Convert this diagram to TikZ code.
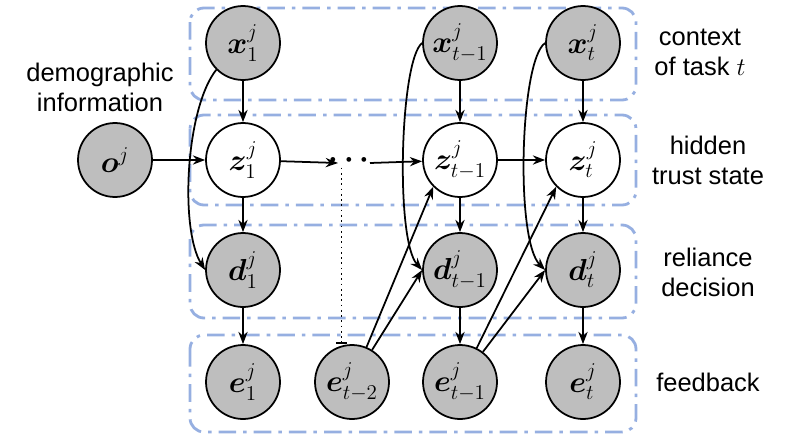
\documentclass[tikz,border=0pt]{standalone}
\usepackage{amsmath,bm}
\usepackage{fontspec}
\setmainfont{Liberation Sans}
\usetikzlibrary{arrows.meta}
\definecolor{gcol}{RGB}{190,190,190}
\definecolor{lcol}{RGB}{150,175,225}
\tikzset{every picture/.style={x=0.02cm,y=-0.02cm}}
\tikzset{obs/.style={circle,draw,line width=1pt,fill=gcol,minimum size=1.48cm,inner sep=0pt,font=\LARGE}}
\tikzset{hid/.style={circle,draw,line width=1pt,fill=white,minimum size=1.48cm,inner sep=0pt,font=\LARGE}}
\tikzset{edge/.style={-{Stealth[length=7pt]},line width=1pt}}
\tikzset{plate/.style={draw=lcol,line width=1.6pt,dash pattern=on 10pt off 4pt on 2pt off 4pt,rounded corners=8pt}}
\tikzset{lab/.style={align=center,font=\fontsize{14.5}{17}\selectfont}}
\begin{document}
\begin{tikzpicture}
\useasboundingbox (0,0) rectangle (794,436);
\draw [plate] (190,8) rectangle (636,100);
\draw [plate] (190,115) rectangle (636,205);
\draw [plate] (190,225) rectangle (636,318);
\draw [plate] (190,335) rectangle (636,432);

\node [obs] (o) at (115,160) {$\bm{o}^j$};
\node [obs] (x1) at (243,43) {$\bm{x}_1^j$};
\node [hid] (z1) at (243,160) {$\bm{z}_1^j$};
\node [obs] (d1) at (243,270) {$\bm{d}_1^j$};
\node [obs] (e1) at (243,382) {$\bm{e}_1^j$};

\node [obs] (e2) at (352,382) {$\bm{e}_{t-2}^j$};

\node [obs] (x2) at (460,43) {$\bm{x}_{t-1}^j$};
\node [hid] (z2) at (460,160) {$\bm{z}_{t-1}^j$};
\node [obs] (d2) at (460,270) {$\bm{d}_{t-1}^j$};
\node [obs] (e3) at (460,382) {$\bm{e}_{t-1}^j$};

\node [obs] (x3) at (583,43) {$\bm{x}_t^j$};
\node [hid] (z3) at (583,160) {$\bm{z}_t^j$};
\node [obs] (d3) at (583,270) {$\bm{d}_t^j$};
\node [obs] (e4) at (583,382) {$\bm{e}_t^j$};

\coordinate (dl) at (338,163);
\coordinate (dr) at (370,163);
\node [inner sep=0pt,font=\LARGE] (dots) at (352,160) {$\bm{\cdots}$};

\node [lab] at (100,87) {demographic\\information};
\node [lab] at (700,52) {context\\of task $t$};
\node [lab] at (708,160) {hidden\\trust state};
\node [lab] at (708,272) {reliance\\decision};
\node [lab] at (708,382) {feedback};

\draw [edge] (o) -- (z1);
\draw [edge] (x1) -- (z1);
\draw [edge] (z1) -- (d1);
\draw [edge] (d1) -- (e1);
\draw [edge] (x1.south west) .. controls (185,110) and (180,230) .. (d1.west);
\draw [edge] (z1) -- (dl);
\draw [edge] (dr) -- (z2);
\draw [line width=1pt,dotted,-{Bar[width=6pt,line width=1pt]}] ([xshift=-6pt]dots.south) -- ([xshift=-6pt]e2.north);
\draw [edge] (e2) -- (z2.south west);
\draw [edge] (e2) -- (d2.west);
\draw [edge] (x2) -- (z2);
\draw [edge] (z2) -- (d2);
\draw [edge] (d2) -- (e3);
\draw [edge] (x2.west) .. controls (400,60) and (395,240) .. (d2.west);
\draw [edge] (z2) -- (z3);
\draw [edge] (e3) -- (z3.south west);
\draw [edge] (e3) -- (d3.west);
\draw [edge] (x3) -- (z3);
\draw [edge] (z3) -- (d3);
\draw [edge] (d3) -- (e4);
\draw [edge] (x3.west) .. controls (520,60) and (515,240) .. (d3.west);
\end{tikzpicture}
\end{document}
